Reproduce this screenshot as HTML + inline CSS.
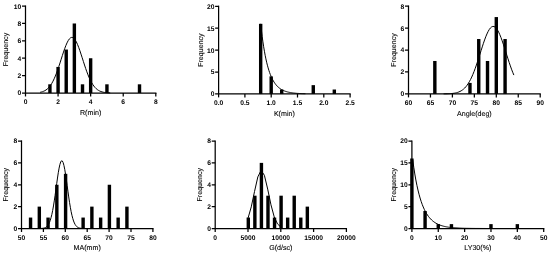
<!DOCTYPE html>
<html><head><meta charset="utf-8"><title>Histograms</title>
<style>
html,body{margin:0;padding:0;background:#fff}
svg{display:block}
text{font-family:"Liberation Sans",Arial,sans-serif;fill:#000;text-rendering:geometricPrecision}
.t{font-size:6.7px;font-weight:bold}
.a{font-size:7.1px;stroke:#000;stroke-width:0.1px}
</style></head><body>
<svg width="550" height="256" viewBox="0 0 550 256">
<rect width="550" height="256" fill="#fff"/>
<rect x="48.23" y="84.31" width="3.4" height="8.69"/>
<rect x="56.38" y="66.93" width="3.4" height="26.07"/>
<rect x="64.52" y="49.55" width="3.4" height="43.45"/>
<rect x="72.66" y="23.48" width="3.4" height="69.52"/>
<rect x="80.81" y="84.31" width="3.4" height="8.69"/>
<rect x="88.95" y="58.24" width="3.4" height="34.76"/>
<rect x="105.24" y="84.31" width="3.4" height="8.69"/>
<rect x="137.81" y="84.31" width="3.4" height="8.69"/>
<polyline points="40.16,92.29 41.33,92.03 42.49,91.69 43.66,91.24 44.83,90.68 46,89.96 47.16,89.08 48.33,87.99 49.5,86.68 50.66,85.13 51.83,83.3 53,81.18 54.17,78.78 55.33,76.09 56.5,73.12 57.67,69.9 58.84,66.48 60,62.92 61.17,59.27 62.34,55.62 63.5,52.06 64.67,48.69 65.84,45.61 67.01,42.9 68.17,40.66 69.34,38.96 70.51,37.86 71.68,37.4 72.84,37.59 74.01,38.43 75.18,39.88 76.34,41.9 77.51,44.42 78.68,47.36 79.85,50.62 81.01,54.11 82.18,57.73 83.35,61.39 84.52,65.01 85.68,68.49 86.85,71.8 88.02,74.88 89.18,77.69 90.35,80.21 91.52,82.45 92.69,84.39 93.85,86.06 95.02,87.47 96.19,88.65 97.36,89.62 98.52,90.4 99.69,91.02 100.86,91.52 102.02,91.9 103.19,92.19 104.36,92.41 105.53,92.58 106.69,92.7 107.86,92.79 109.03,92.86 110.2,92.9" fill="none" stroke="#000" stroke-width="1.0" stroke-linejoin="round"/>
<path d="M22.02 93H156.43" stroke="#000" stroke-width="1.25" fill="none"/>
<path d="M25.5 5.47V96.47" stroke="#000" stroke-width="1.25" fill="none"/>
<path d="M58.08 93V96.47M90.65 93V96.47M123.23 93V96.47M155.8 93V96.47M22.02 75.62H25.5M22.02 58.24H25.5M22.02 40.86H25.5M22.02 23.48H25.5M22.02 6.1H25.5" stroke="#000" stroke-width="1.25" fill="none"/>
<text class="t" x="25.5" y="104" text-anchor="middle">0</text>
<text class="t" x="58.08" y="104" text-anchor="middle">2</text>
<text class="t" x="90.65" y="104" text-anchor="middle">4</text>
<text class="t" x="123.23" y="104" text-anchor="middle">6</text>
<text class="t" x="155.8" y="104" text-anchor="middle">8</text>
<text class="t" x="21.3" y="95.45" text-anchor="end">0</text>
<text class="t" x="21.3" y="78.07" text-anchor="end">2</text>
<text class="t" x="21.3" y="60.69" text-anchor="end">4</text>
<text class="t" x="21.3" y="43.31" text-anchor="end">6</text>
<text class="t" x="21.3" y="25.93" text-anchor="end">8</text>
<text class="t" x="21.3" y="8.55" text-anchor="end">10</text>
<text class="a" x="90.65" y="114.6" text-anchor="middle">R(min)</text>
<text class="a" transform="translate(8.1 49.55) rotate(-90)" text-anchor="middle">Frequency</text>
<rect x="258.98" y="23.82" width="3.4" height="70.08"/>
<rect x="269.5" y="76.38" width="3.4" height="17.52"/>
<rect x="280.02" y="89.52" width="3.4" height="4.38"/>
<rect x="311.58" y="85.14" width="3.4" height="8.76"/>
<rect x="332.62" y="89.52" width="3.4" height="4.38"/>
<polyline points="260.68,23.82 261.43,30.44 262.17,36.43 262.92,41.85 263.66,46.77 264.41,51.22 265.15,55.25 265.9,58.9 266.64,62.2 267.39,65.19 268.13,67.9 268.88,70.36 269.62,72.58 270.37,74.59 271.11,76.42 271.86,78.07 272.6,79.56 273.35,80.91 274.09,82.14 274.84,83.25 275.58,84.26 276.33,85.17 277.07,85.99 277.82,86.74 278.56,87.41 279.31,88.03 280.05,88.58 280.8,89.08 281.54,89.54 282.29,89.95 283.04,90.32 283.78,90.66 284.53,90.97 285.27,91.24 286.02,91.49 286.76,91.72 287.51,91.93 288.25,92.11 289,92.28 289.74,92.43 290.49,92.57 291.23,92.7 291.98,92.81 292.72,92.91 293.47,93.01 294.21,93.09 294.96,93.17 295.7,93.24 296.45,93.3 297.19,93.36 297.94,93.41 298.68,93.45 299.43,93.5 300.17,93.53 300.92,93.57 301.66,93.6 302.41,93.63 303.15,93.65 303.9,93.68 304.64,93.7 305.39,93.72" fill="none" stroke="#000" stroke-width="1.0" stroke-linejoin="round"/>
<path d="M215.12 93.9H350.73" stroke="#000" stroke-width="1.25" fill="none"/>
<path d="M218.6 5.67V97.38" stroke="#000" stroke-width="1.25" fill="none"/>
<path d="M244.9 93.9V97.38M271.2 93.9V97.38M297.5 93.9V97.38M323.8 93.9V97.38M350.1 93.9V97.38M215.12 72H218.6M215.12 50.1H218.6M215.12 28.2H218.6M215.12 6.3H218.6" stroke="#000" stroke-width="1.25" fill="none"/>
<text class="t" x="218.6" y="104.9" text-anchor="middle">0.0</text>
<text class="t" x="244.9" y="104.9" text-anchor="middle">0.5</text>
<text class="t" x="271.2" y="104.9" text-anchor="middle">1.0</text>
<text class="t" x="297.5" y="104.9" text-anchor="middle">1.5</text>
<text class="t" x="323.8" y="104.9" text-anchor="middle">2.0</text>
<text class="t" x="350.1" y="104.9" text-anchor="middle">2.5</text>
<text class="t" x="214.4" y="96.35" text-anchor="end">0</text>
<text class="t" x="214.4" y="74.45" text-anchor="end">5</text>
<text class="t" x="214.4" y="52.55" text-anchor="end">10</text>
<text class="t" x="214.4" y="30.65" text-anchor="end">15</text>
<text class="t" x="214.4" y="8.75" text-anchor="end">20</text>
<text class="a" x="284.35" y="115.5" text-anchor="middle">K(min)</text>
<text class="a" transform="translate(202.5 50.1) rotate(-90)" text-anchor="middle">Frequency</text>
<rect x="433.14" y="60.98" width="3.4" height="32.93"/>
<rect x="468.26" y="82.93" width="3.4" height="10.97"/>
<rect x="477.04" y="39.02" width="3.4" height="54.88"/>
<rect x="485.82" y="60.98" width="3.4" height="32.93"/>
<rect x="494.6" y="17.07" width="3.4" height="76.83"/>
<rect x="503.38" y="39.02" width="3.4" height="54.88"/>
<polyline points="443.62,93.86 444.79,93.84 445.96,93.82 447.13,93.79 448.3,93.74 449.47,93.68 450.64,93.61 451.81,93.51 452.99,93.38 454.16,93.21 455.33,92.99 456.5,92.72 457.67,92.38 458.84,91.96 460.01,91.44 461.18,90.81 462.35,90.04 463.52,89.12 464.69,88.04 465.86,86.77 467.03,85.29 468.2,83.59 469.37,81.66 470.55,79.49 471.72,77.07 472.89,74.4 474.06,71.5 475.23,68.37 476.4,65.05 477.57,61.56 478.74,57.95 479.91,54.26 481.08,50.55 482.25,46.88 483.42,43.32 484.59,39.94 485.76,36.79 486.93,33.97 488.11,31.51 489.28,29.49 490.45,27.95 491.62,26.93 492.79,26.44 493.96,26.51 495.13,27.13 496.3,28.29 497.47,29.96 498.64,32.09 499.81,34.64 500.98,37.55 502.15,40.76 503.32,44.2 504.49,47.79 505.67,51.48 506.84,55.19 508.01,58.86 509.18,62.45 510.35,65.9 511.52,69.18 512.69,72.25 513.86,75.09" fill="none" stroke="#000" stroke-width="1.0" stroke-linejoin="round"/>
<path d="M405.02 93.9H540.83" stroke="#000" stroke-width="1.25" fill="none"/>
<path d="M408.5 5.47V97.38" stroke="#000" stroke-width="1.25" fill="none"/>
<path d="M430.45 93.9V97.38M452.4 93.9V97.38M474.35 93.9V97.38M496.3 93.9V97.38M518.25 93.9V97.38M540.2 93.9V97.38M405.02 71.95H408.5M405.02 50H408.5M405.02 28.05H408.5M405.02 6.1H408.5" stroke="#000" stroke-width="1.25" fill="none"/>
<text class="t" x="408.5" y="104.9" text-anchor="middle">60</text>
<text class="t" x="430.45" y="104.9" text-anchor="middle">65</text>
<text class="t" x="452.4" y="104.9" text-anchor="middle">70</text>
<text class="t" x="474.35" y="104.9" text-anchor="middle">75</text>
<text class="t" x="496.3" y="104.9" text-anchor="middle">80</text>
<text class="t" x="518.25" y="104.9" text-anchor="middle">85</text>
<text class="t" x="540.2" y="104.9" text-anchor="middle">90</text>
<text class="t" x="404.3" y="96.35" text-anchor="end">0</text>
<text class="t" x="404.3" y="74.4" text-anchor="end">2</text>
<text class="t" x="404.3" y="52.45" text-anchor="end">4</text>
<text class="t" x="404.3" y="30.5" text-anchor="end">6</text>
<text class="t" x="404.3" y="8.55" text-anchor="end">8</text>
<text class="a" x="474.35" y="115.5" text-anchor="middle">Angle(deg)</text>
<text class="a" transform="translate(396.2 50) rotate(-90)" text-anchor="middle">Frequency</text>
<rect x="28.86" y="217.56" width="3.4" height="10.94"/>
<rect x="37.62" y="206.62" width="3.4" height="21.88"/>
<rect x="46.38" y="217.56" width="3.4" height="10.94"/>
<rect x="55.14" y="184.75" width="3.4" height="43.75"/>
<rect x="63.9" y="173.81" width="3.4" height="54.69"/>
<rect x="81.42" y="217.56" width="3.4" height="10.94"/>
<rect x="90.18" y="206.62" width="3.4" height="21.88"/>
<rect x="98.94" y="217.56" width="3.4" height="10.94"/>
<rect x="107.7" y="184.75" width="3.4" height="43.75"/>
<rect x="116.46" y="217.56" width="3.4" height="10.94"/>
<rect x="125.22" y="206.62" width="3.4" height="21.88"/>
<polyline points="39.02,228.48 39.82,228.47 40.63,228.45 41.43,228.41 42.23,228.35 43.03,228.25 43.84,228.1 44.64,227.87 45.44,227.54 46.25,227.05 47.05,226.37 47.85,225.42 48.66,224.15 49.46,222.48 50.26,220.33 51.06,217.64 51.87,214.36 52.67,210.47 53.47,205.97 54.28,200.91 55.08,195.41 55.88,189.62 56.69,183.74 57.49,178.02 58.29,172.72 59.1,168.12 59.9,164.46 60.7,161.97 61.5,160.78 62.31,160.97 63.11,162.52 63.91,165.35 64.72,169.29 65.52,174.11 66.32,179.55 67.12,185.34 67.93,191.21 68.73,196.95 69.53,202.34 70.34,207.25 71.14,211.59 71.94,215.32 72.75,218.43 73.55,220.97 74.35,222.98 75.16,224.53 75.96,225.71 76.76,226.58 77.56,227.2 78.37,227.64 79.17,227.94 79.97,228.15 80.78,228.28 81.58,228.37 82.38,228.42 83.18,228.45 83.99,228.47 84.79,228.48 85.59,228.49 86.4,228.5 87.2,228.5" fill="none" stroke="#000" stroke-width="1.0" stroke-linejoin="round"/>
<path d="M18.02 228.5H153.53" stroke="#000" stroke-width="1.25" fill="none"/>
<path d="M21.5 140.38V231.97" stroke="#000" stroke-width="1.25" fill="none"/>
<path d="M43.4 228.5V231.97M65.3 228.5V231.97M87.2 228.5V231.97M109.1 228.5V231.97M131 228.5V231.97M152.9 228.5V231.97M18.02 206.62H21.5M18.02 184.75H21.5M18.02 162.88H21.5M18.02 141H21.5" stroke="#000" stroke-width="1.25" fill="none"/>
<text class="t" x="21.5" y="239.5" text-anchor="middle">50</text>
<text class="t" x="43.4" y="239.5" text-anchor="middle">55</text>
<text class="t" x="65.3" y="239.5" text-anchor="middle">60</text>
<text class="t" x="87.2" y="239.5" text-anchor="middle">65</text>
<text class="t" x="109.1" y="239.5" text-anchor="middle">70</text>
<text class="t" x="131" y="239.5" text-anchor="middle">75</text>
<text class="t" x="152.9" y="239.5" text-anchor="middle">80</text>
<text class="t" x="17.3" y="230.95" text-anchor="end">0</text>
<text class="t" x="17.3" y="209.07" text-anchor="end">2</text>
<text class="t" x="17.3" y="187.2" text-anchor="end">4</text>
<text class="t" x="17.3" y="165.32" text-anchor="end">6</text>
<text class="t" x="17.3" y="143.45" text-anchor="end">8</text>
<text class="a" x="87.2" y="250.1" text-anchor="middle">MA(mm)</text>
<text class="a" transform="translate(8.1 184.75) rotate(-90)" text-anchor="middle">Frequency</text>
<rect x="246.6" y="217.56" width="3.4" height="10.94"/>
<rect x="253.16" y="195.69" width="3.4" height="32.81"/>
<rect x="259.72" y="162.88" width="3.4" height="65.62"/>
<rect x="266.28" y="195.69" width="3.4" height="32.81"/>
<rect x="272.84" y="217.56" width="3.4" height="10.94"/>
<rect x="279.4" y="195.69" width="3.4" height="32.81"/>
<rect x="285.96" y="217.56" width="3.4" height="10.94"/>
<rect x="292.52" y="195.69" width="3.4" height="32.81"/>
<rect x="299.08" y="217.56" width="3.4" height="10.94"/>
<rect x="305.64" y="206.62" width="3.4" height="21.88"/>
<polyline points="248,218.27 251.28,206.86 254.56,191.4 257.84,176.92 261.12,170.34 264.4,175.34 267.68,189.09 270.96,204.81 274.24,216.95 277.52,223.94 280.8,227.04" fill="none" stroke="#000" stroke-width="1.0" stroke-linejoin="round"/>
<path d="M211.72 228.5H347.02" stroke="#000" stroke-width="1.25" fill="none"/>
<path d="M215.2 140.38V231.97" stroke="#000" stroke-width="1.25" fill="none"/>
<path d="M248 228.5V231.97M280.8 228.5V231.97M313.6 228.5V231.97M346.4 228.5V231.97M211.72 206.62H215.2M211.72 184.75H215.2M211.72 162.88H215.2M211.72 141H215.2" stroke="#000" stroke-width="1.25" fill="none"/>
<text class="t" x="215.2" y="239.5" text-anchor="middle">0</text>
<text class="t" x="248" y="239.5" text-anchor="middle">5000</text>
<text class="t" x="280.8" y="239.5" text-anchor="middle">10000</text>
<text class="t" x="313.6" y="239.5" text-anchor="middle">15000</text>
<text class="t" x="346.4" y="239.5" text-anchor="middle">20000</text>
<text class="t" x="211" y="230.95" text-anchor="end">0</text>
<text class="t" x="211" y="209.07" text-anchor="end">2</text>
<text class="t" x="211" y="187.2" text-anchor="end">4</text>
<text class="t" x="211" y="165.32" text-anchor="end">6</text>
<text class="t" x="211" y="143.45" text-anchor="end">8</text>
<text class="a" x="280.8" y="250.1" text-anchor="middle">G(d/sc)</text>
<text class="a" transform="translate(202.2 184.75) rotate(-90)" text-anchor="middle">Frequency</text>
<rect x="410.2" y="158.5" width="3.4" height="70"/>
<rect x="423.38" y="211" width="3.4" height="17.5"/>
<rect x="436.56" y="224.12" width="3.4" height="4.38"/>
<rect x="449.74" y="224.12" width="3.4" height="4.38"/>
<rect x="489.28" y="224.12" width="3.4" height="4.38"/>
<rect x="515.64" y="224.12" width="3.4" height="4.38"/>
<polyline points="412.69,159.73 413.75,167.28 414.8,173.99 415.85,179.97 416.91,185.3 417.96,190.03 419.02,194.25 420.07,198.01 421.13,201.36 422.18,204.33 423.23,206.98 424.29,209.35 425.34,211.45 426.4,213.32 427.45,214.98 428.51,216.47 429.56,217.79 430.62,218.96 431.67,220.01 432.72,220.94 433.78,221.77 434.83,222.51 435.89,223.16 436.94,223.75 438,224.27 439.05,224.73 440.11,225.15 441.16,225.52 442.21,225.84 443.27,226.13 444.32,226.39 445.38,226.63 446.43,226.83 447.49,227.01 448.54,227.18 449.59,227.32 450.65,227.45 451.7,227.57 452.76,227.67 453.81,227.76 454.87,227.84 455.92,227.91 456.98,227.98 458.03,228.04 459.08,228.09 460.14,228.13 461.19,228.17 462.25,228.21 463.3,228.24 464.36,228.27 465.41,228.29 466.47,228.32 467.52,228.34 468.57,228.35 469.63,228.37 470.68,228.38 471.74,228.4 472.79,228.41 473.85,228.42 474.9,228.43 475.95,228.44 477.01,228.44 478.06,228.45 479.12,228.45 480.17,228.46 481.23,228.46 482.28,228.47 483.34,228.47 484.39,228.47 485.44,228.48" fill="none" stroke="#000" stroke-width="1.0" stroke-linejoin="round"/>
<path d="M408.42 228.5H544.33" stroke="#000" stroke-width="1.25" fill="none"/>
<path d="M411.9 140.38V231.97" stroke="#000" stroke-width="1.25" fill="none"/>
<path d="M438.26 228.5V231.97M464.62 228.5V231.97M490.98 228.5V231.97M517.34 228.5V231.97M543.7 228.5V231.97M408.42 206.62H411.9M408.42 184.75H411.9M408.42 162.88H411.9M408.42 141H411.9" stroke="#000" stroke-width="1.25" fill="none"/>
<text class="t" x="411.9" y="239.5" text-anchor="middle">0</text>
<text class="t" x="438.26" y="239.5" text-anchor="middle">10</text>
<text class="t" x="464.62" y="239.5" text-anchor="middle">20</text>
<text class="t" x="490.98" y="239.5" text-anchor="middle">30</text>
<text class="t" x="517.34" y="239.5" text-anchor="middle">40</text>
<text class="t" x="543.7" y="239.5" text-anchor="middle">50</text>
<text class="t" x="407.7" y="230.95" text-anchor="end">0</text>
<text class="t" x="407.7" y="209.07" text-anchor="end">5</text>
<text class="t" x="407.7" y="187.2" text-anchor="end">10</text>
<text class="t" x="407.7" y="165.32" text-anchor="end">15</text>
<text class="t" x="407.7" y="143.45" text-anchor="end">20</text>
<text class="a" x="477.8" y="250.1" text-anchor="middle">LY30(%)</text>
<text class="a" transform="translate(396.2 184.75) rotate(-90)" text-anchor="middle">Frequency</text>
</svg>
</body></html>
